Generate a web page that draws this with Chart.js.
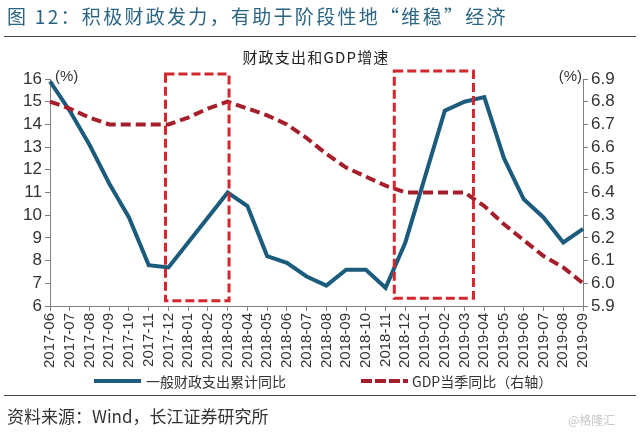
<!DOCTYPE html>
<html>
<head>
<meta charset="utf-8">
<script src="https://cdn.jsdelivr.net/npm/chart.js@4"></script>
<style>
  body { margin: 0; width: 640px; height: 433px; position: relative; background: #fff; overflow: hidden;
         font-family: "Noto Sans CJK SC", "Liberation Sans", sans-serif; color: #333; }
  #fiscalChart { position: absolute; left: 0; top: 0; }
  .txt { position: absolute; white-space: nowrap; line-height: 1; z-index: 2; }
  .rule { position: absolute; left: 4px; width: 632px; height: 1px; background: #444; z-index: 2; }
  #title { left: 7px; top: 6px; font-size: 19px; letter-spacing: 2.3px; color: #2a6583; }
  #subtitle { left: 0; width: 632px; text-align: center; top: 49px; font-size: 15px; letter-spacing: 1.2px; color: #222; }
  #source { left: 7px; top: 407px; font-size: 17px; color: #333; }
  #mark { left: 568px; top: 414px; font-size: 12px; color: #c8c8c8; }
  .swatch { position: absolute; height: 4px; z-index: 2; }
</style>
</head>
<body>
<div class="txt" id="title">图 12：积极财政发力，有助于阶段性地“维稳”经济</div>
<div class="rule" style="top:36px"></div>
<div class="txt" id="subtitle">财政支出和GDP增速</div>
<canvas id="fiscalChart" width="640" height="433"></canvas>

<div class="swatch" style="left:94px; top:379px; width:47px; background:#1b5b7c;"></div>
<div class="txt" style="left:146px; top:374px; font-size:14px;">一般财政支出累计同比</div>
<div class="swatch" style="left:361px; top:379px; width:47px; background:repeating-linear-gradient(to right, #a51e2b 0 11px, transparent 11px 14px);"></div>
<div class="txt" style="left:412px; top:374px; font-size:14px;">GDP当季同比（右轴）</div>

<div class="rule" style="top:395px"></div>
<div class="txt" id="source">资料来源：Wind，长江证券研究所</div>
<div class="txt" id="mark">@格隆汇</div>

<script>
// bulan 2017-06 .. 2019-09
const months = ['2017-06', '2017-07', '2017-08', '2017-09', '2017-10', '2017-11', '2017-12',
    '2018-01', '2018-02', '2018-03', '2018-04', '2018-05', '2018-06', '2018-07', '2018-08',
    '2018-09', '2018-10', '2018-11', '2018-12', '2019-01', '2019-02', '2019-03', '2019-04',
    '2019-05', '2019-06', '2019-07', '2019-08', '2019-09'];

// 一般财政支出累计同比 (左轴, %)
const spending = [15.9, 14.6, 13.1, 11.4, 9.9, 7.8, 7.7, 8.8, 9.9, 11.0, 10.4, 8.2, 7.9, 7.3,
    6.9, 7.6, 7.6, 6.8, 8.8, 11.7, 14.6, 15.0, 15.2, 12.5, 10.7, 9.9, 8.8, 9.4];

// GDP当季同比 (右轴, %)
const gdp = [6.80, 6.77, 6.73, 6.70, 6.70, 6.70, 6.70, 6.73, 6.77, 6.80, 6.77, 6.74, 6.70, 6.64,
    6.57, 6.51, 6.47, 6.43, 6.40, 6.40, 6.40, 6.40, 6.34, 6.26, 6.19, 6.12, 6.07, 6.00];

// kotak sorotan merah (indeks kategori, nilai sumbu kiri)
const boxFrom = [5.85, 17.44];
const boxTo = [9.07, 21.45];
const boxTop = [16.22, 16.35];
const boxBottom = [6.23, 6.34];

const tickFont = { family: 'Liberation Sans', size: 17, lineHeight: 1 };
const axisGrid = { drawOnChartArea: false, drawTicks: true, tickLength: 5, color: '#7f7f7f' };

const boxPlugin = {
    id: 'boxes',
    afterDatasetsDraw(chart) {
        const { ctx, chartArea, scales: { x, y } } = chart;
        ctx.save();
        ctx.strokeStyle = '#d3262d';
        ctx.lineWidth = 3;
        ctx.setLineDash([9, 4]);
        boxFrom.forEach((_, i) => {
            const l = x.getPixelForValue(boxFrom[i]);
            const r = x.getPixelForValue(boxTo[i]);
            const t = y.getPixelForValue(boxTop[i]);
            const b = y.getPixelForValue(boxBottom[i]);
            ctx.strokeRect(l, t, r - l, b - t);
        });
        // satuan (%) di atas sumbu
        ctx.setLineDash([]);
        ctx.fillStyle = '#333';
        ctx.font = '15px "Liberation Sans"';
        ctx.textBaseline = 'middle';
        ctx.textAlign = 'left';
        ctx.fillText('(%)', chartArea.left + 5, chartArea.top - 2);
        ctx.textAlign = 'right';
        ctx.fillText('(%)', chartArea.right - 1, chartArea.top - 2);
        ctx.restore();
    }
};

const ctx = document.getElementById('fiscalChart').getContext('2d');
const fiscalChart = new Chart(ctx, {
    type: 'line',
    data: {
        labels: months,
        datasets: [
            {
                label: '一般财政支出累计同比',
                data: spending,
                yAxisID: 'y',
                borderColor: '#1b5b7c',
                borderWidth: 4,
                pointRadius: 0,
                order: 1
            },
            {
                label: 'GDP当季同比（右轴）',
                data: gdp,
                yAxisID: 'y1',
                borderColor: '#a51e2b',
                borderWidth: 4,
                borderDash: [10, 5],
                pointRadius: 0,
                order: 0
            }
        ]
    },
    options: {
        responsive: false,
        animation: false,
        layout: { padding: { top: 79, bottom: 57, left: 0, right: 0 } },
        plugins: {
            legend: { display: false },
            title: { display: false },
            tooltip: { enabled: false }
        },
        scales: {
            x: {
                offset: false,
                grid: { ...axisGrid, offset: false },
                border: { color: '#7f7f7f' },
                ticks: {
                    autoSkip: false,
                    minRotation: 90,
                    maxRotation: 90,
                    padding: 2,
                    color: '#333',
                    font: { family: 'Liberation Sans', size: 15 }
                },
                afterFit: s => { s.height = 70; }
            },
            y: {
                position: 'left',
                min: 6,
                max: 16,
                grid: axisGrid,
                border: { color: '#7f7f7f' },
                ticks: { stepSize: 1, autoSkip: false, padding: 3, color: '#333', font: tickFont },
                afterFit: s => { s.width = 50; }
            },
            y1: {
                position: 'right',
                min: 5.9,
                max: 6.9,
                grid: axisGrid,
                border: { color: '#7f7f7f' },
                ticks: {
                    stepSize: 0.1,
                    autoSkip: false,
                    padding: 3,
                    color: '#333',
                    font: tickFont,
                    callback: v => Number(v).toFixed(1)
                },
                afterFit: s => { s.width = 57; }
            }
        }
    },
    plugins: [boxPlugin]
});
</script>
</body>
</html>
